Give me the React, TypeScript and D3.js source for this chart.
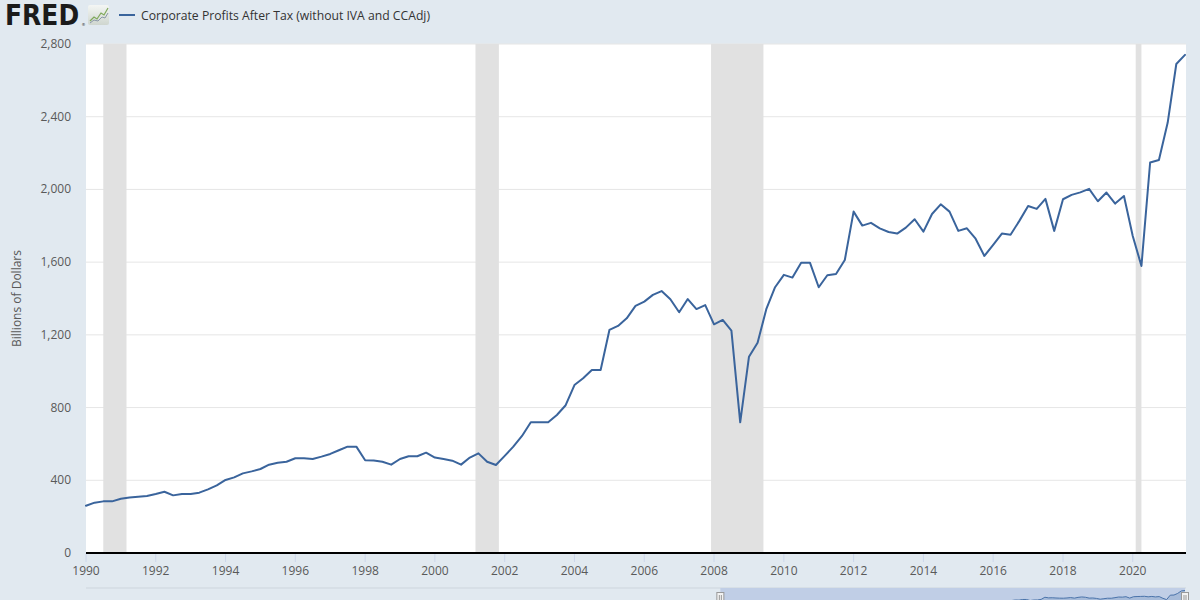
import React from "react";
import * as d3 from "d3";

// Quarterly series, seasonally adjusted annual rate, billions of dollars.
// First observation is 1990 Q1, one value per quarter.
const START_YEAR = 1990;
const profits: number[] = [
  260, 277, 284, 284, // 1990
  298, 305, 309, 314, // 1991
  325, 337, 317, 325, // 1992
  325, 332, 350, 372, // 1993
  402, 416, 438, 449, // 1994
  462, 486, 497, 502, // 1995
  521, 521, 517, 530, // 1996
  545, 565, 585, 585, // 1997
  510, 509, 502, 486, // 1998
  517, 532, 532, 552, // 1999
  525, 517, 508, 486, // 2000
  525, 548, 502, 484, // 2001
  534, 585, 644, 719, // 2002
  719, 719, 759, 813, // 2003
  924, 961, 1007, 1007, // 2004
  1227, 1249, 1291, 1359, // 2005
  1383, 1420, 1441, 1396, // 2006
  1324, 1397, 1342, 1364, // 2007
  1258, 1282, 1223, 719, // 2008
  1080, 1157, 1341, 1462, // 2009
  1530, 1515, 1597, 1597, // 2010
  1462, 1528, 1535, 1612, // 2011
  1878, 1801, 1816, 1786, // 2012
  1766, 1757, 1790, 1836, // 2013
  1768, 1865, 1918, 1878, // 2014
  1772, 1786, 1729, 1634, // 2015
  1695, 1757, 1751, 1827, // 2016
  1909, 1893, 1948, 1772, // 2017
  1946, 1970, 1984, 2003, // 2018
  1935, 1983, 1922, 1964, // 2019
  1744, 1579, 2148, 2162, // 2020
  2368, 2690, 2740, // 2021
];

// NBER recession periods (start, end)
const recessions: [string, string][] = [
  ["1990-07-01", "1991-03-01"],
  ["2001-03-01", "2001-11-01"],
  ["2007-12-01", "2009-06-01"],
  ["2020-02-01", "2020-04-01"],
];

const yTicks: number[] = [0, 400, 800, 1200, 1600, 2000, 2400, 2800];
const xTickYears: number[] = [
  1990, 1992, 1994, 1996, 1998, 2000, 2002, 2004, 2006, 2008, 2010, 2012, 2014,
  2016, 2018, 2020,
];

const seriesTitle = "Corporate Profits After Tax (without IVA and CCAdj)";
const yAxisTitle = "Billions of Dollars";

const FONT = "'Open Sans', 'DejaVu Sans', sans-serif";
const LINE_COLOR = "#3a649c";
const BG = "#e1e9f0";

export default function App() {
  const W = 1200;
  const H = 600;
  const plotLeft = 86;
  const plotRight = 1186;
  const plotTop = 44;
  const plotBottom = 553;

  const dates = profits.map(
    (_, i) => new Date(Date.UTC(START_YEAR + Math.floor(i / 4), (i % 4) * 3, 1))
  );
  const lastDate = dates[dates.length - 1];

  const x = d3
    .scaleUtc()
    .domain([dates[0], lastDate])
    .range([plotLeft, 1185]);
  const y = d3.scaleLinear().domain([0, 2800]).range([plotBottom, plotTop]);

  const linePath =
    d3
      .line<number>()
      .x((_, i) => x(dates[i]))
      .y((d) => y(d))(profits) || "";

  // Navigator strip below the axis: whole history on a compressed scale
  const navTop = 588;
  const nx = d3
    .scaleUtc()
    .domain([new Date(Date.UTC(1947, 0, 1)), lastDate])
    .range([plotLeft, 1185]);
  const ny = d3.scaleLinear().domain([0, 2740]).range([612, 590.5]);
  const navLine =
    d3
      .line<number>()
      .x((_, i) => nx(dates[i]))
      .y((d) => ny(d))(profits) || "";
  const navArea =
    d3
      .area<number>()
      .x((_, i) => nx(dates[i]))
      .y0(620)
      .y1((d) => ny(d))(profits) || "";
  const selStart = nx(dates[0]);
  const selEnd = nx(lastDate);

  const fmt = d3.format(",");

  const handle = (hx: number) => (
    <g key={hx}>
      <rect
        x={hx - 3.5}
        y={592.5}
        width={7}
        height={14}
        fill="#f2f2f2"
        stroke="#999999"
        strokeWidth={1}
      />
      <line x1={hx - 1} x2={hx - 1} y1={595} y2={601} stroke="#999" />
      <line x1={hx + 1} x2={hx + 1} y1={595} y2={601} stroke="#999" />
    </g>
  );

  return (
    <svg
      width={W}
      height={H}
      style={{ position: "absolute", left: 0, top: 0, display: "block" }}
      fontFamily={FONT}
    >
      <defs>
        <clipPath id="nav-clip">
          <rect x={plotLeft} y={navTop} width={plotRight - plotLeft} height={H - navTop} />
        </clipPath>
        <linearGradient id="icon-bg" x1="0" y1="0" x2="0" y2="1">
          <stop offset="0" stopColor="#f4f6f4" />
          <stop offset="1" stopColor="#cfd6cf" />
        </linearGradient>
      </defs>

      <rect x={0} y={0} width={W} height={H} fill={BG} />

      {/* Header: logo and legend */}
      <text
        transform="translate(5,25) scale(1,1.12)"
        fontFamily="'DejaVu Sans', 'Liberation Sans', sans-serif"
        fontWeight={700}
        fontSize={25}
        fill="#1b1b1b"
      >
        FRED
      </text>
      <text x={81.5} y={26} fontSize={4} fill="#1b1b1b" fontFamily="'DejaVu Sans', sans-serif">
        ®
      </text>
      <rect x={88} y={5} width={21} height={20} rx={2} fill="url(#icon-bg)" />
      <polyline
        points="90,21 94,17 97,19 101,13 104,15 108,8"
        fill="none"
        stroke="#7fa85a"
        strokeWidth={1.2}
      />
      <polyline
        points="90,23 94,20 98,21 102,17 105,18 108,13"
        fill="none"
        stroke="#8a98a8"
        strokeWidth={1}
      />
      <line x1={119} x2={135} y1={15} y2={15} stroke={LINE_COLOR} strokeWidth={2} />
      <text x={141} y={19.5} fontSize={12.2} fill="#333333">
        {seriesTitle}
      </text>

      {/* Plot background */}
      <rect
        x={plotLeft}
        y={plotTop}
        width={plotRight - plotLeft}
        height={plotBottom - plotTop}
        fill="#ffffff"
      />

      {/* Horizontal grid */}
      {yTicks.map((t) => (
        <line
          key={`g${t}`}
          x1={plotLeft}
          x2={plotRight}
          y1={y(t)}
          y2={y(t)}
          stroke="#e6e6e6"
          strokeWidth={1}
        />
      ))}

      {/* Recession shading */}
      {recessions.map(([s, e]) => {
        const x0 = x(new Date(s + "T00:00:00Z"));
        const x1 = x(new Date(e + "T00:00:00Z"));
        return (
          <rect
            key={s}
            x={x0}
            y={plotTop}
            width={x1 - x0}
            height={plotBottom - plotTop}
            fill="#e1e1e1"
          />
        );
      })}

      {/* Y-axis labels */}
      {yTicks.map((t) => (
        <text
          key={`yl${t}`}
          x={71}
          y={y(t) + 4}
          textAnchor="end"
          fontSize={12}
          fill="#595959"
        >
          {fmt(t)}
        </text>
      ))}
      <text
        transform={`translate(21,${(plotTop + plotBottom) / 2}) rotate(-90)`}
        textAnchor="middle"
        fontSize={12}
        fill="#595959"
      >
        {yAxisTitle}
      </text>

      {/* X-axis ticks and labels */}
      {xTickYears.map((yr) => {
        const tx = x(new Date(Date.UTC(yr, 0, 1)));
        return (
          <g key={`x${yr}`}>
            <line x1={tx} x2={tx} y1={plotBottom} y2={plotBottom + 9} stroke="#ccd6eb" />
            <text x={tx} y={574.5} textAnchor="middle" fontSize={12} fill="#595959">
              {yr}
            </text>
          </g>
        );
      })}

      {/* Series */}
      <path
        d={linePath}
        fill="none"
        stroke={LINE_COLOR}
        strokeWidth={2}
        strokeLinejoin="round"
        strokeLinecap="round"
      />

      {/* Axis line */}
      <line
        x1={plotLeft}
        x2={plotRight}
        y1={plotBottom}
        y2={plotBottom}
        stroke="#000000"
        strokeWidth={2}
      />

      {/* Navigator */}
      <line x1={plotLeft} x2={plotRight} y1={navTop} y2={navTop} stroke="#cdd5dd" strokeWidth={1} />
      <g clipPath="url(#nav-clip)">
        <rect x={selStart} y={navTop} width={selEnd - selStart} height={H - navTop} fill="#c0cee6" />
        <path d={navArea} fill="#4572a7" fillOpacity={0.2} />
        <path d={navLine} fill="none" stroke="#4a73aa" strokeWidth={1} />
      </g>
      {handle(selStart)}
      {handle(selEnd)}
    </svg>
  );
}
